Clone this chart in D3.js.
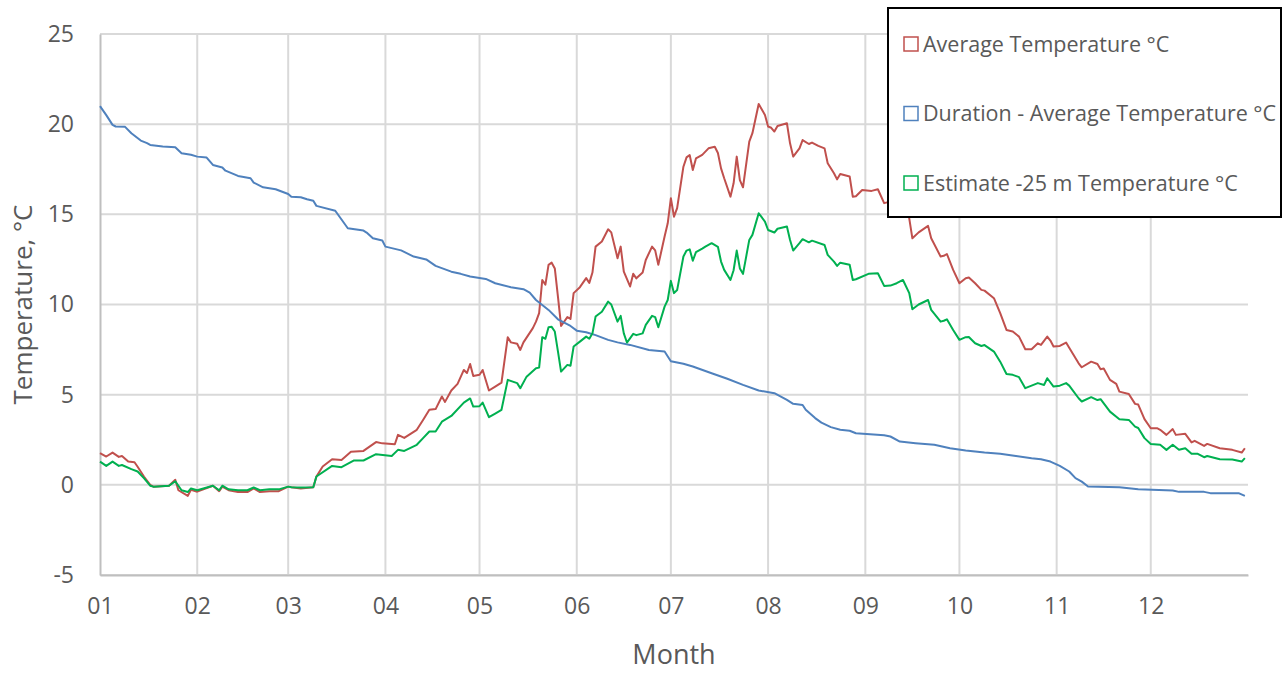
<!DOCTYPE html>
<html>
<head>
<meta charset="utf-8">
<script src="https://cdn.jsdelivr.net/npm/d3@7"></script>
<style>
  body { margin: 0; background: #fff; }
  text { font-family: "Open Sans", "Noto Sans", sans-serif; fill: #595959; }
</style>
</head>
<body>
<div id="chart"></div>
<script>
// month tick labels
var months = ["01", "02", "03", "04", "05", "06", "07", "08", "09", "10", "11", "12"];
var yTicks = [-5, 0, 5, 10, 15, 20, 25];

// day of year (0 = 1 Jan) and value
var avgDays = [0, 2, 4, 6, 7, 9, 11, 12, 14, 16, 17, 22, 24, 25, 28, 29, 31, 36, 38, 39, 41, 44, 47, 49, 51, 54, 57, 60, 61, 64, 68, 69, 71, 74, 77, 80, 84, 88, 90, 94, 95, 97, 101, 103, 105, 107, 109, 110, 112, 114, 116, 117, 118, 119, 121, 122, 124, 126, 128, 130, 131, 133, 134, 135, 138, 139, 140, 141, 142, 143, 144, 145, 146, 147, 149, 150, 151, 153, 155, 156, 157, 158, 160, 162, 163, 165, 166, 167, 169, 170, 171, 173, 174, 176, 177, 178, 180, 181, 182, 183, 184, 186, 187, 188, 189, 190, 192, 193, 194, 196, 197, 198, 199, 201, 202, 203, 204, 205, 207, 208, 210, 212, 213, 214, 215, 216, 219, 220, 221, 223, 224, 226, 227, 229, 231, 232, 234, 235, 236, 239, 240, 241, 243, 246, 248, 250, 254, 257, 258, 259, 261, 264, 265, 268, 269, 270, 272, 274, 276, 277, 279, 281, 282, 285, 287, 289, 291, 293, 295, 297, 299, 300, 302, 303, 304, 306, 308, 309, 312, 313, 316, 318, 319, 320, 322, 324, 325, 328, 330, 331, 333, 335, 337, 338, 340, 342, 343, 346, 348, 349, 352, 353, 357, 361, 364, 365];
var avgTemp = [1.76, 1.57, 1.79, 1.55, 1.6, 1.29, 1.25, 1.0, 0.46, 0, -0.1, -0.05, 0.28, -0.3, -0.61, -0.28, -0.38, -0.05, -0.35, -0.1, -0.3, -0.4, -0.4, -0.2, -0.4, -0.35, -0.35, -0.1, -0.13, -0.2, -0.13, 0.46, 1.02, 1.42, 1.38, 1.83, 1.88, 2.37, 2.3, 2.25, 2.77, 2.6, 3.05, 3.6, 4.16, 4.2, 4.9, 4.6, 5.23, 5.6, 6.37, 6.2, 6.7, 6.04, 6.1, 6.37, 5.23, 5.45, 5.67, 8.19, 7.9, 7.82, 7.48, 7.9, 8.69, 9.05, 9.52, 11.36, 11.1, 12.2, 12.32, 12.0, 10.44, 8.81, 9.3, 9.2, 10.63, 10.96, 11.46, 11.2, 11.77, 13.21, 13.49, 14.17, 14.0, 12.57, 13.21, 11.82, 11.0, 11.7, 11.45, 11.77, 12.47, 13.21, 13.0, 12.2, 13.77, 14.5, 15.89, 14.87, 15.34, 17.64, 18.16, 18.29, 17.46, 18.1, 18.3, 18.48, 18.66, 18.75, 18.4, 17.55, 17.0, 15.98, 16.72, 18.2, 16.9, 16.5, 19.03, 19.5, 21.12, 20.51, 19.87, 19.8, 19.59, 19.9, 20.05, 18.94, 18.2, 18.66, 19.12, 18.9, 18.98, 18.8, 18.66, 17.83, 17.28, 16.94, 17.24, 17.1, 15.98, 16.0, 16.35, 16.3, 16.39, 15.62, 15.8, 15.3, 14.78, 13.67, 14.0, 14.36, 13.67, 12.66, 12.7, 12.8, 11.92, 11.18, 11.46, 11.5, 11.18, 10.81, 10.77, 10.35, 9.52, 8.59, 8.5, 8.22, 7.52, 7.52, 7.85, 7.76, 8.22, 8.0, 7.67, 7.7, 7.89, 7.6, 6.74, 6.52, 6.83, 6.7, 6.41, 6.45, 5.82, 5.6, 5.17, 5.04, 4.49, 4.45, 3.64, 3.14, 3.14, 3.05, 2.77, 3.09, 2.77, 2.83, 2.35, 2.44, 2.16, 2.27, 2.03, 1.94, 1.79, 2.03];

var durDays = [0, 2, 4, 5, 8, 10, 13, 15, 16, 20, 24, 26, 29, 31, 34, 36, 39, 40, 44, 48, 49, 52, 56, 60, 61, 64, 66, 68, 69, 75, 79, 84, 85, 87, 90, 91, 96, 100, 104, 107, 112, 115, 118, 123, 126, 131, 135, 137, 139, 143, 146, 150, 152, 155, 158, 162, 165, 169, 175, 180, 182, 186, 189, 195, 200, 205, 210, 215, 219, 221, 224, 225, 228, 230, 233, 236, 239, 241, 250, 252, 255, 260, 266, 271, 276, 282, 287, 292, 297, 300, 303, 306, 309, 311, 313, 315, 325, 331, 342, 344, 352, 354, 363, 365];
var durTemp = [21.0, 20.5, 19.96, 19.87, 19.85, 19.5, 19.09, 18.95, 18.85, 18.76, 18.72, 18.39, 18.3, 18.2, 18.15, 17.74, 17.6, 17.42, 17.13, 17.0, 16.76, 16.5, 16.39, 16.13, 15.98, 15.95, 15.84, 15.75, 15.47, 15.2, 14.23, 14.1, 13.99, 13.67, 13.55, 13.21, 13.0, 12.66, 12.5, 12.14, 11.82, 11.7, 11.55, 11.42, 11.18, 10.96, 10.85, 10.66, 10.25, 9.7, 9.18, 8.81, 8.55, 8.46, 8.3, 8.04, 7.9, 7.76, 7.48, 7.39, 6.85, 6.71, 6.56, 6.19, 5.88, 5.54, 5.23, 5.08, 4.71, 4.49, 4.43, 4.16, 3.7, 3.45, 3.2, 3.05, 3.0, 2.86, 2.75, 2.68, 2.4, 2.31, 2.22, 2.03, 1.9, 1.79, 1.72, 1.6, 1.48, 1.42, 1.29, 1.05, 0.74, 0.37, 0.18, -0.09, -0.13, -0.24, -0.31, -0.39, -0.39, -0.46, -0.46, -0.61];

var estDays = [0, 2, 4, 6, 7, 10, 12, 14, 16, 17, 22, 24, 26, 28, 29, 31, 36, 38, 39, 41, 44, 47, 49, 51, 54, 57, 60, 61, 64, 68, 69, 74, 77, 81, 84, 88, 93, 95, 97, 101, 103, 105, 107, 109, 112, 116, 118, 119, 121, 122, 124, 126, 128, 130, 133, 134, 136, 139, 140, 141, 142, 143, 144, 145, 146, 147, 149, 150, 151, 153, 155, 156, 157, 158, 160, 162, 163, 165, 166, 167, 168, 170, 171, 173, 174, 176, 177, 178, 180, 181, 182, 183, 184, 186, 187, 188, 189, 190, 192, 193, 195, 197, 198, 199, 201, 202, 203, 204, 205, 207, 208, 210, 212, 213, 215, 216, 219, 220, 221, 223, 224, 226, 227, 231, 232, 234, 235, 236, 239, 240, 241, 245, 248, 250, 252, 254, 256, 258, 259, 261, 264, 265, 268, 269, 270, 272, 274, 276, 277, 279, 281, 282, 285, 287, 289, 291, 293, 295, 297, 299, 301, 302, 304, 306, 308, 309, 312, 313, 316, 318, 319, 322, 325, 328, 330, 331, 333, 335, 338, 340, 342, 344, 346, 348, 350, 352, 353, 357, 361, 364, 365];
var estTemp = [1.29, 1.05, 1.29, 1.05, 1.1, 0.87, 0.74, 0.37, -0.05, -0.1, -0.05, 0.2, -0.3, -0.4, -0.2, -0.3, -0.05, -0.3, -0.05, -0.25, -0.3, -0.3, -0.15, -0.3, -0.25, -0.25, -0.1, -0.13, -0.15, -0.13, 0.46, 1.05, 0.98, 1.35, 1.35, 1.7, 1.6, 1.94, 1.88, 2.22, 2.59, 2.96, 2.96, 3.5, 3.82, 4.56, 4.79, 4.34, 4.36, 4.56, 3.75, 3.95, 4.16, 5.82, 5.64, 5.36, 6.0, 6.47, 6.5, 8.19, 8.1, 8.74, 8.76, 8.5, 7.4, 6.28, 6.65, 6.6, 7.67, 7.94, 8.22, 8.1, 8.4, 9.33, 9.6, 10.16, 10.0, 9.05, 9.37, 8.4, 7.89, 8.37, 8.3, 8.4, 8.87, 9.37, 9.3, 8.74, 9.88, 10.25, 11.31, 10.63, 10.8, 12.66, 12.99, 13.06, 12.43, 12.9, 13.1, 13.21, 13.4, 13.2, 12.38, 11.92, 11.36, 11.9, 12.99, 12.0, 11.7, 13.58, 13.86, 15.06, 14.6, 14.13, 13.99, 14.2, 14.32, 13.58, 12.99, 13.4, 13.62, 13.45, 13.54, 13.3, 12.75, 12.38, 12.14, 12.32, 12.2, 11.36, 11.4, 11.7, 11.73, 11.03, 11.05, 11.18, 11.36, 10.63, 9.74, 10.0, 10.25, 9.7, 9.05, 9.1, 9.18, 8.59, 8.04, 8.19, 8.2, 7.85, 7.7, 7.75, 7.39, 6.83, 6.15, 6.1, 5.97, 5.36, 5.5, 5.64, 5.54, 5.91, 5.45, 5.5, 5.64, 5.5, 4.8, 4.62, 4.86, 4.7, 4.75, 4.06, 3.64, 3.6, 3.23, 3.15, 2.59, 2.27, 2.22, 1.94, 2.22, 1.95, 2.03, 1.72, 1.72, 1.53, 1.6, 1.42, 1.4, 1.29, 1.48];

var series = [
  { name: "Average Temperature °C", color: "#C0504D", days: avgDays, values: avgTemp },
  { name: "Duration - Average Temperature °C", color: "#4F81BD", days: durDays, values: durTemp },
  { name: "Estimate -25 m Temperature °C", color: "#00B050", days: estDays, values: estTemp }
];

var width = 1288, height = 673;
var margin = { top: 34, right: 40, bottom: 98, left: 100 };

var svg = d3.select("#chart").append("svg")
  .attr("width", width)
  .attr("height", height);

var start = new Date(2016, 0, 1);
var x = d3.scaleTime()
  .domain([start, new Date(2017, 0, 1)])
  .range([margin.left, width - margin.right]);

var y = d3.scaleLinear()
  .domain([-5, 25])
  .range([height - margin.bottom, margin.top]);

var monthStarts = months.map(function(m, i) { return new Date(2016, i, 1); });

// grid
svg.append("g")
  .selectAll("line.h")
  .data(yTicks)
  .enter().append("line")
  .attr("x1", x.range()[0]).attr("x2", x.range()[1])
  .attr("y1", function(d) { return y(d); }).attr("y2", function(d) { return y(d); })
  .attr("stroke", "#d9d9d9").attr("stroke-width", 2);

svg.append("g")
  .selectAll("line.v")
  .data(monthStarts.slice(1))
  .enter().append("line")
  .attr("x1", function(d) { return x(d); }).attr("x2", function(d) { return x(d); })
  .attr("y1", y.range()[0]).attr("y2", y.range()[1])
  .attr("stroke", "#d9d9d9").attr("stroke-width", 2);

// axes
var xAxis = svg.append("g")
  .attr("transform", "translate(0," + y(-5) + ")")
  .call(d3.axisBottom(x).tickValues(monthStarts).tickFormat(function(d, i) { return months[i]; }).tickSize(0).tickPadding(23));

var yAxis = svg.append("g")
  .attr("transform", "translate(" + x.range()[0] + ",0)")
  .call(d3.axisLeft(y).tickValues(yTicks).tickFormat(function(d) { return String(d); }).tickSize(0).tickPadding(26));

[xAxis, yAxis].forEach(function(a) {
  a.select(".domain").attr("stroke", "#bfbfbf").attr("stroke-width", 2);
  a.selectAll("text").style("font-size", "23px").attr("fill", "#595959");
});

// lines
var line = d3.line()
  .x(function(d) { return x(d3.timeDay.offset(start, d[0])); })
  .y(function(d) { return y(d[1]); });

svg.append("g")
  .selectAll("path")
  .data(series)
  .enter().append("path")
  .attr("fill", "none")
  .attr("stroke", function(d) { return d.color; })
  .attr("stroke-width", 2)
  .attr("stroke-linejoin", "round")
  .attr("d", function(d) { return line(d3.zip(d.days, d.values)); });

// axis titles
svg.append("text")
  .attr("x", (x.range()[0] + x.range()[1]) / 2)
  .attr("y", 664)
  .attr("text-anchor", "middle")
  .style("font-size", "27px")
  .text("Month");

svg.append("text")
  .attr("transform", "translate(32," + (y(10)) + ") rotate(-90)")
  .attr("text-anchor", "middle")
  .style("font-size", "26px")
  .text("Temperature, °C");

// legend
var legend = svg.append("g");
legend.append("rect")
  .attr("x", 888).attr("y", 8)
  .attr("width", 393).attr("height", 209)
  .attr("fill", "#fff")
  .attr("stroke", "#000").attr("stroke-width", 2);

var item = legend.selectAll("g.item")
  .data(series)
  .enter().append("g")
  .attr("transform", function(d, i) { return "translate(904," + (44 + i * 69.5) + ")"; });

item.append("rect")
  .attr("x", 0).attr("y", -7)
  .attr("width", 14).attr("height", 14)
  .attr("fill", "none")
  .attr("stroke", function(d) { return d.color; })
  .attr("stroke-width", 1.5);

item.append("text")
  .attr("x", 19).attr("dy", "0.35em")
  .style("font-size", "21.5px")
  .text(function(d) { return d.name; });
</script>
</body>
</html>
